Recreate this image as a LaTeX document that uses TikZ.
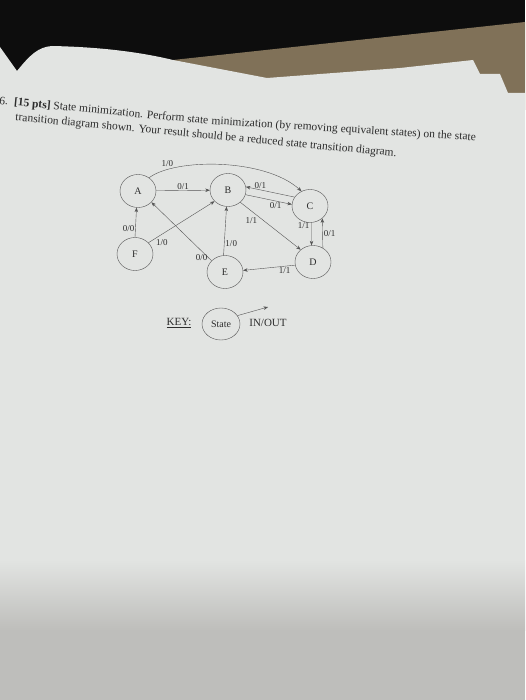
\documentclass[tikz,border=0pt]{standalone}
\usepackage{fontspec}
\setmainfont{Liberation Serif}
\usetikzlibrary{arrows.meta,shapes.geometric}
\definecolor{paper}{RGB}{226,228,226}
\definecolor{desk}{RGB}{128,113,88}
\definecolor{shadow}{RGB}{190,190,187}
\definecolor{ink}{RGB}{45,45,45}
\definecolor{wire}{RGB}{85,85,85}
\tikzset{
  stn/.style={ellipse,draw=wire,thin,minimum width=36pt,minimum height=33pt,
    inner sep=0pt,text=ink,font=\fontsize{10}{11}\selectfont},
  lbl/.style={text=ink,font=\fontsize{9}{10}\selectfont,inner sep=1pt},
  tr/.style={draw=wire,thin,-{Stealth[length=4.5pt,width=3.5pt]}},
  ques/.style={anchor=base west,text=ink,inner sep=0pt,font=\fontsize{11.5}{13}\selectfont},
}
\begin{document}
\begin{tikzpicture}[x=1pt,y=-1pt]
\useasboundingbox (0,0) rectangle (525,700);
% photo background
\fill[black!95] (0,0) rectangle (525,110);
\fill[desk] (173,60) -- (525,22) -- (525,110) -- (173,110) -- cycle;
\fill[paper] (0,47) -- (17,71) .. controls (30,55) and (38,47) .. (52,46)
  .. controls (100,47) and (140,52) .. (173,60) -- (267,78) -- (400,68)
  -- (473,60) -- (480,74) -- (500,74) -- (508,93) -- (525,93)
  -- (525,700) -- (0,700) -- cycle;
\shade[top color=paper,bottom color=shadow] (0,560) rectangle (525,630);
\fill[shadow] (0,630) rectangle (525,700);

% question
\node[ques,rotate=-5.5] (q1a) at (-1,104)
  {6.\hspace{6pt}\textbf{[15 pts]} State minimization. Perform state};
\node[ques,rotate=-3.6] (q1b) at ([xshift=3pt]q1a.base east)
  {minimization (by removing equivalent states) on the state};
\node[ques,rotate=-5.4] (q2) at (15,120.5)
  {transition diagram shown. Your result should be a reduced state transition diagram.};

% states
\node[stn] (A) at (138,191) {A};
\node[stn] (B) at (228,190) {B};
\node[stn] (C) at (310,206) {C};
\node[stn] (D) at (313,262) {D};
\node[stn] (E) at (225,272) {E};
\node[stn] (F) at (135,254) {F};

% transitions
\draw[tr] (A) -- node[lbl,above]{0/1} (B);
\draw[tr] (A.50) .. controls (175,158) and (265,158) .. node[lbl,above=2pt,pos=0.17]{1/0} (C.120);
\draw[tr] (C.150) -- node[lbl,above,pos=0.7]{0/1} (B.10);
\draw[tr] (B.-15) -- node[lbl,below,pos=0.65]{0/1} (C.175);
\draw[tr] (B.-45) -- node[lbl,below left=0pt,pos=0.3]{1/1} (D.135);
\draw[tr] (C.-85) -- node[lbl,left=1pt,pos=0.12]{1/1} (D.95);
\draw[tr] (D.55) -- node[lbl,right]{0/1} (C.-45);
\draw[tr] (D.190) -- node[lbl,below,pos=0.2]{1/1} (E.5);
\draw[tr] (E.95) -- node[lbl,right,pos=0.25]{1/0} (B.-95);
\draw[tr] (E.140) -- node[lbl,left,pos=0.05]{0/0} (A.-40);
\draw[tr] (F.north) -- node[lbl,left,pos=0.3]{0/0} (A.-95);
\draw[tr] (F.40) -- node[lbl,below right=0pt,pos=0.1]{1/0} (B.-140);

% key
\node[lbl,font=\fontsize{11}{12}\selectfont] (key) at (179,323) {\underline{KEY:}};
\node[stn,minimum width=38pt,minimum height=32pt,font=\fontsize{10}{11}\selectfont] (st) at (221,324) {State};
\coordinate (io) at (268,307);
\draw[tr] (st.27) -- (io);
\node[lbl,font=\fontsize{11}{12}\selectfont] (inout) at (268,323) {IN/OUT};
\end{tikzpicture}
\end{document}
